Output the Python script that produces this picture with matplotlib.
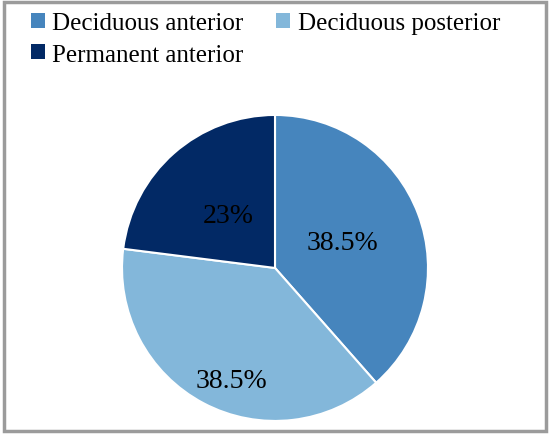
import matplotlib
matplotlib.use("Agg")
import matplotlib.pyplot as plt
from matplotlib.patches import Rectangle, Patch
import numpy as np

categories = ["Deciduous anterior", "Deciduous posterior", "Permanent anterior"]
values = [38.5, 38.5, 23]
colors = ["#4685BD", "#83B7DA", "#022965"]
label_radius = [0.47, 0.79, 0.46]
label_shift_deg = [0, 7, 0]

plt.rcParams['font.family'] = ['Liberation Serif', 'DejaVu Serif']

fig = plt.figure(figsize=(5.5, 4.35), dpi=100)
ax = fig.add_axes([0.2218, 0.030, 0.5564, 0.7034])

def fmt(v):
    return f"{v:g}%"

wedges, texts = ax.pie(values, colors=colors, startangle=90, counterclock=False,
                       wedgeprops=dict(edgecolor="white", linewidth=1.5))
for w, v, r, s in zip(wedges, values, label_radius, label_shift_deg):
    ang = np.deg2rad((w.theta1 + w.theta2) / 2 + s)
    ax.text(r * np.cos(ang), r * np.sin(ang), fmt(v), ha="center", va="center",
            fontsize=20, color="black")
ax.set_xlim(-1, 1)
ax.set_ylim(-1, 1)
ax.set_aspect("equal")

handles = [Patch(facecolor=c) for c in colors]
order = [0, 2, 1]
fig.legend([handles[i] for i in order], [categories[i] for i in order],
           ncol=2, loc="upper left", bbox_to_anchor=(0.025, 1.010),
           frameon=False, fontsize=18, handlelength=0.55, handleheight=0.55,
           handletextpad=0.3, columnspacing=1.3, labelspacing=0.38, borderpad=0.2)

fig.patches.append(Rectangle((0.007, 0.008), 0.986, 0.984, transform=fig.transFigure,
                             fill=False, edgecolor="#9B9B9B", linewidth=2.5))

fig.savefig("out.png", dpi=100)
